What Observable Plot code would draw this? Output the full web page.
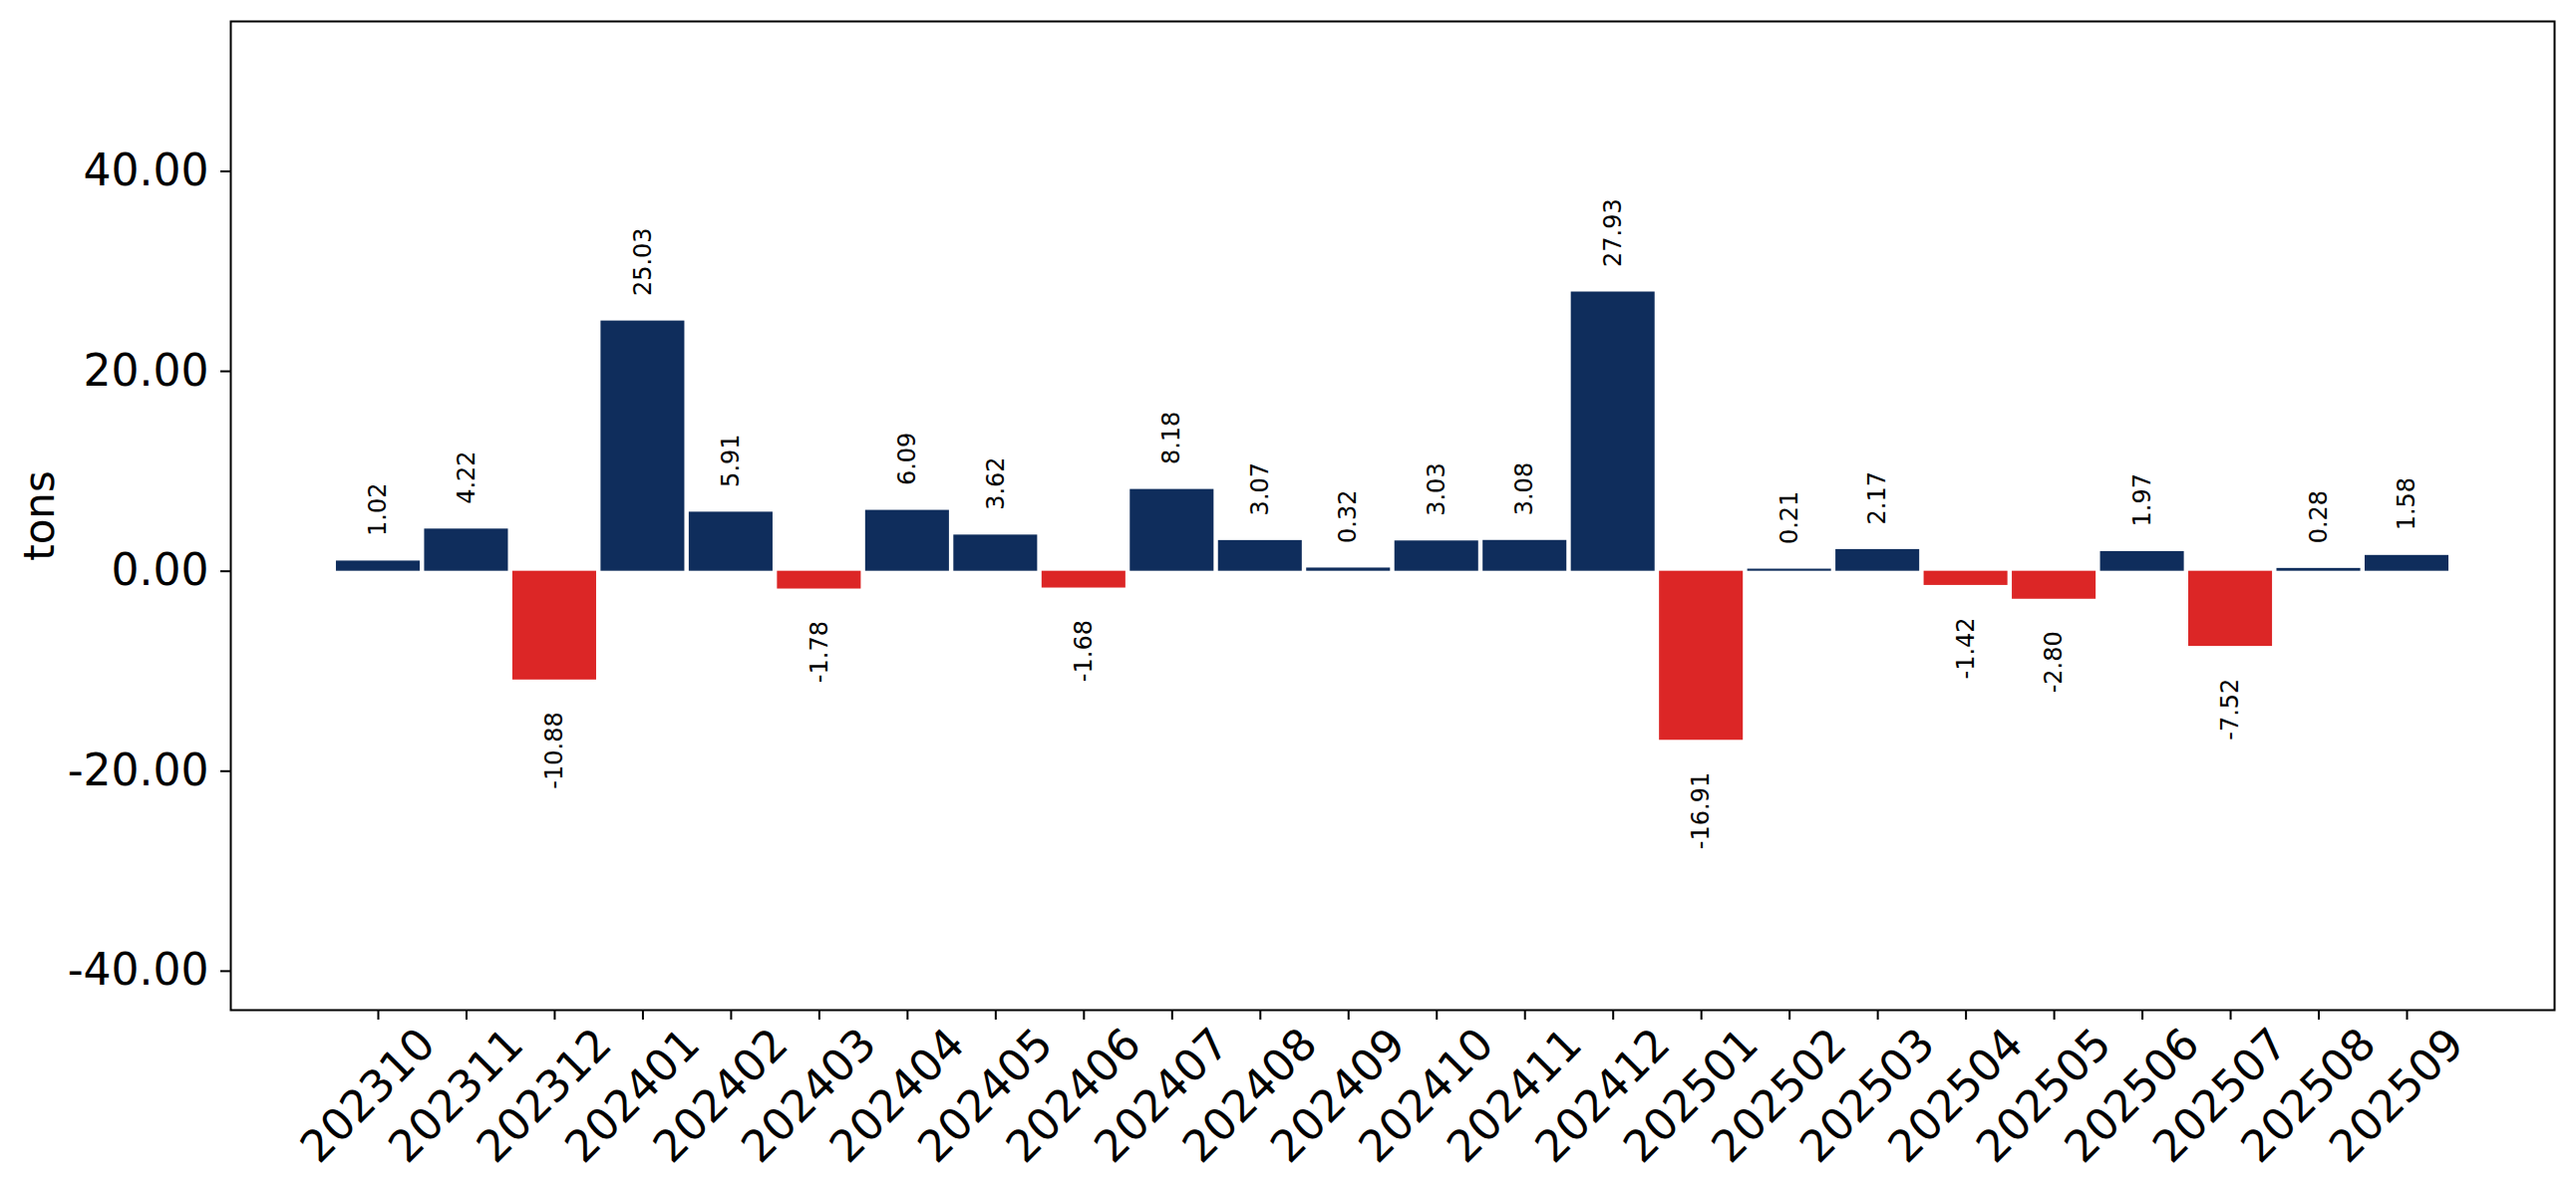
<!DOCTYPE html>
<html>
<head>
<meta charset="utf-8">
<script src="https://cdn.jsdelivr.net/npm/d3@7"></script>
<script src="https://cdn.jsdelivr.net/npm/@observablehq/plot@0.6"></script>
<style>
  html, body { margin: 0; padding: 0; background: #ffffff; }
  #chart svg { display: block; }
</style>
</head>
<body>
<div id="chart"></div>
<script>
// Monthly change, in tons
const months = [
  "202310", "202311", "202312",
  "202401", "202402", "202403", "202404", "202405", "202406",
  "202407", "202408", "202409", "202410", "202411", "202412",
  "202501", "202502", "202503", "202504", "202505", "202506",
  "202507", "202508", "202509"
];
const values = [
  1.02, 4.22, -10.88,
  25.03, 5.91, -1.78, 6.09, 3.62, -1.68,
  8.18, 3.07, 0.32, 3.03, 3.08, 27.93,
  -16.91, 0.21, 2.17, -1.42, -2.80, 1.97,
  -7.52, 0.28, 1.58
];
const yTicks = [-40, -20, 0, 20, 40];
const yLabel = "tons";

const NAVY = "#0f2d5c";
const RED = "#dc2626";

const data = months.map((m, i) => ({month: m, value: values[i]}));
const fmt = (v) => v.toFixed(2);

const chart = Plot.plot({
  width: 2584,
  height: 1199,
  marginTop: 21,
  marginRight: 22,
  marginBottom: 186,
  marginLeft: 231,
  style: {fontFamily: "'DejaVu Sans', sans-serif", fontSize: "44px", background: "#ffffff", color: "#000000"},
  x: {type: "band", domain: months, paddingInner: 0.05, paddingOuter: 1.1975, round: false},
  y: {domain: [-43.9, 55.0]},
  color: {domain: ["up", "down"], range: [NAVY, RED]},
  marks: [
    Plot.barY(data, {
      x: "month",
      y: "value",
      fill: (d) => (d.value >= 0 ? "up" : "down")
    }),
    // value labels above positive bars
    Plot.text(data.filter((d) => d.value >= 0), {
      x: "month",
      y: "value",
      text: (d) => fmt(d.value),
      rotate: -90,
      textAnchor: "start",
      dy: -25,
      fontSize: 24,
      fill: "#000000"
    }),
    // value labels below negative bars
    Plot.text(data.filter((d) => d.value < 0), {
      x: "month",
      y: "value",
      text: (d) => fmt(d.value),
      rotate: -90,
      textAnchor: "end",
      dy: 32,
      fontSize: 24,
      fill: "#000000"
    }),
    Plot.axisY({
      ticks: yTicks,
      tickFormat: fmt,
      tickSize: 10,
      tickPadding: 12,
      strokeWidth: 2,
      fontSize: 44,
      label: null
    }),
    Plot.axisX({
      tickSize: 10,
      strokeWidth: 2,
      tickFormat: () => "",
      label: null
    }),
    // rotated month labels centred under each tick
    Plot.text(months, {
      x: (d) => d,
      frameAnchor: "bottom",
      dy: 96,
      rotate: -45,
      textAnchor: "middle",
      fontSize: 44,
      fill: "#000000"
    }),
    Plot.text([yLabel], {
      frameAnchor: "left",
      dx: -191,
      rotate: -90,
      textAnchor: "middle",
      fontSize: 42,
      fill: "#000000"
    }),
    Plot.frame({stroke: "#000000", strokeWidth: 2})
  ]
});

document.getElementById("chart").appendChild(chart);
</script>
</body>
</html>
